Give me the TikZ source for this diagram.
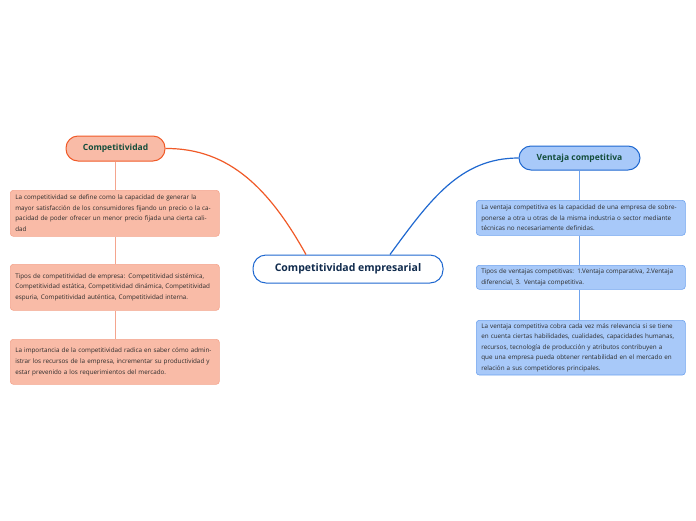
\documentclass[tikz,border=0pt]{standalone}
\usepackage{fontspec}
\setmainfont{Open Sans}
\definecolor{orl}{HTML}{F05A28}
\definecolor{orfill}{HTML}{F9BBA7}
\definecolor{orbd}{HTML}{F4A58E}
\definecolor{bll}{HTML}{1F68D0}
\definecolor{blfill}{HTML}{A8C9F9}
\definecolor{blbd}{HTML}{6FA3EE}
\definecolor{txt}{HTML}{2B2B2B}
\definecolor{dgreen}{HTML}{134D3B}
\begin{document}
\begin{tikzpicture}[x=1pt,y=-1pt,
  leaf/.style={draw, rounded corners=3pt, line width=0.6pt, anchor=north west, inner xsep=5pt, inner ysep=3pt,
     font=\fontsize{6.3}{10.6}\selectfont, text=txt, align=left, text width=199pt},
  lbox/.style={leaf, fill=orfill, draw=orbd},
  rbox/.style={leaf, fill=blfill, draw=blbd},
  main/.style={draw, rounded corners=12pt, line width=1pt, font=\bfseries\fontsize{8.5}{10}\selectfont, text=dgreen}]
\useasboundingbox (0,0) rectangle (696,520);
\node[draw=bll, line width=1pt, rounded corners=13pt, fill=white, minimum width=190pt, minimum height=28pt,
  font=\bfseries\fontsize{10.5}{12}\selectfont, text={rgb,255:red,16;green,43;blue,77}] (c) at (348,269) {Competitividad empresarial};
\node[main, draw=orl, fill=orfill, minimum width=99pt, minimum height=25pt] (l) at (115.5,148.5) {Competitividad};
\node[main, draw=bll, fill=blfill, minimum width=121pt, minimum height=24pt] (r) at (579.5,158) {Ventaja competitiva};

\node[lbox, minimum height=46pt] (l1) at (10,190) {La competitividad se define como la capacidad de generar la mayor satisfacción de los consumidores fijando un precio o la capacidad de poder ofrecer un menor precio fijada una cierta calidad};
\node[lbox, minimum height=46pt] (l2) at (10,264) {Tipos de competitividad de empresa: Competitividad sistémica, Competitividad estática, Competitividad dinámica, Competitividad espuria, Competitividad auténtica, Competitividad interna.};
\node[lbox, minimum height=45pt] (l3) at (10,339) {La importancia de la competitividad radica en saber cómo administrar los recursos de la empresa, incrementar su productividad y estar prevenido a los requerimientos del mercado.};

\node[rbox, minimum height=35pt] (r1) at (476,200) {La ventaja competitiva es la capacidad de una empresa de sobreponerse a otra u otras de la misma industria o sector mediante técnicas no necesariamente definidas.};
\node[rbox, minimum height=24pt] (r2) at (476,265) {Tipos de ventajas competitivas: 1.Ventaja comparativa, 2.Ventaja diferencial, 3. Ventaja competitiva.};
\node[rbox, minimum height=54pt] (r3) at (476,320) {La ventaja competitiva cobra cada vez más relevancia si se tiene en cuenta ciertas habilidades, cualidades, capacidades humanas, recursos, tecnología de producción y atributos contribuyen a que una empresa pueda obtener rentabilidad en el mercado en relación a sus competidores principales.};

\draw[orl, line width=1.2pt] ([xshift=-42pt]c.north) .. controls (270,190) and (230,148) .. (l.east);
\draw[bll, line width=1.2pt] ([xshift=42pt]c.north) .. controls (430,200) and (460,158) .. (r.west);
\begin{scope}[on background layer/.style={}]
\draw[orbd, line width=0.8pt] (l.south) -- (l1.north -| l.south);
\draw[orbd, line width=0.8pt] (l1.south -| l.south) -- (l2.north -| l.south);
\draw[orbd, line width=0.8pt] (l2.south -| l.south) -- (l3.north -| l.south);
\draw[blbd, line width=0.8pt] (r.south) -- (r1.north -| r.south);
\draw[blbd, line width=0.8pt] (r1.south -| r.south) -- (r2.north -| r.south);
\draw[blbd, line width=0.8pt] (r2.south -| r.south) -- (r3.north -| r.south);
\end{scope}
\end{tikzpicture}
\end{document}
